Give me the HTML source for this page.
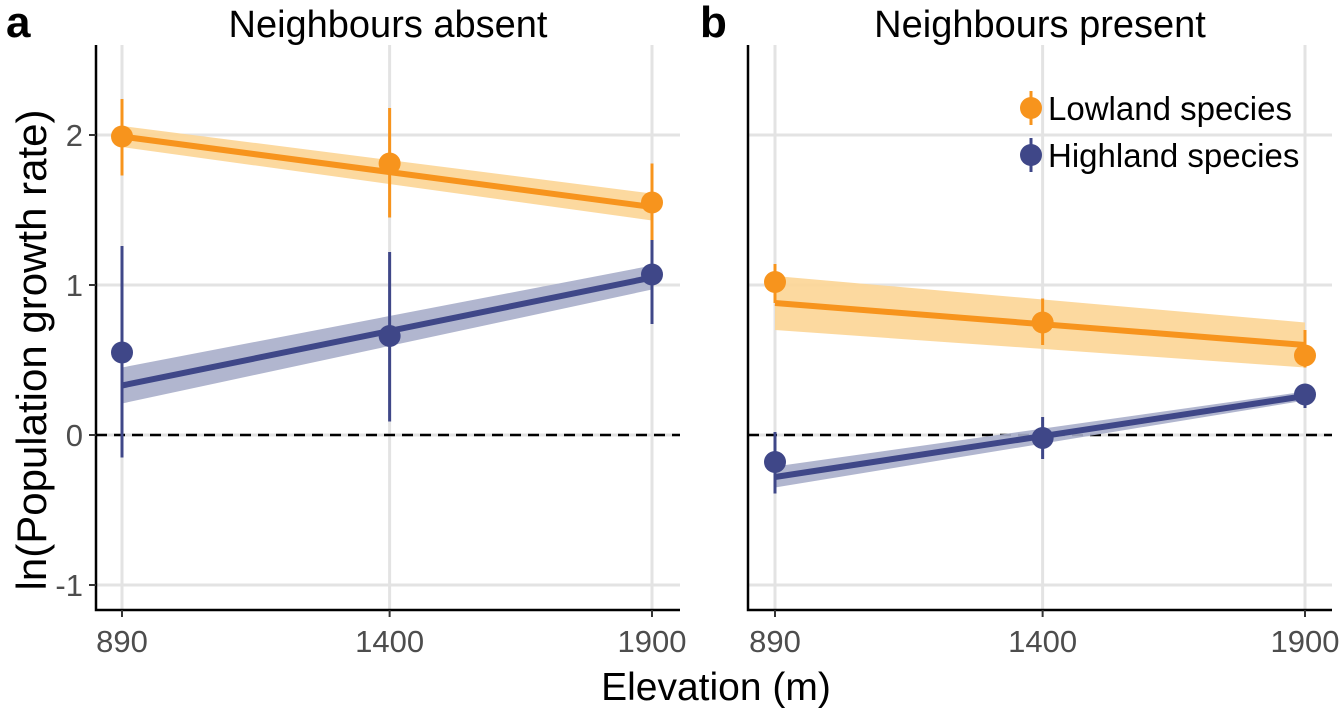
<!DOCTYPE html>
<html><head><meta charset="utf-8"><style>
html,body{margin:0;padding:0;background:#fff;}
svg{display:block;font-family:"Liberation Sans",Arial,sans-serif;}
</style></head><body>
<svg id="chart" width="1344" height="709" viewBox="0 0 1344 709"></svg>
<script>
const elevations = [890, 1400, 1900];
const tickY = [-1, 0, 1, 2];
const panelTitles = ["Neighbours absent", "Neighbours present"];
const panelLetters = ["a", "b"];
const seriesNames = ["Lowland species", "Highland species"];
// panel a
const aLowMean = [1.99, 1.81, 1.55];
const aLowLo = [1.73, 1.45, 1.29];
const aLowHi = [2.24, 2.18, 1.81];
const aLowFit = [1.99, 1.52];
const aLowBand = [0.07, 0.09];
const aHighMean = [0.55, 0.66, 1.07];
const aHighLo = [-0.15, 0.09, 0.74];
const aHighHi = [1.26, 1.22, 1.30];
const aHighFit = [0.33, 1.05];
const aHighBand = [0.12, 0.08];
// panel b
const bLowMean = [1.02, 0.75, 0.53];
const bLowLo = [0.88, 0.60, 0.45];
const bLowHi = [1.14, 0.91, 0.70];
const bLowFit = [0.88, 0.60];
const bLowBand = [0.18, 0.15];
const bHighMean = [-0.18, -0.02, 0.27];
const bHighLo = [-0.39, -0.16, 0.18];
const bHighHi = [0.02, 0.12, 0.32];
const bHighFit = [-0.28, 0.26];
const bHighBand = [0.07, 0.03];

const NS = "http://www.w3.org/2000/svg";
const svg = document.getElementById("chart");
const ORANGE = "#f7941d", BLUE = "#3f4788", ORIB = "#fcd595", BLRIB = "#a9aeca";
function mk(tag, attrs, parent) {
  const e = document.createElementNS(NS, tag);
  for (const k in attrs) e.setAttribute(k, attrs[k]);
  (parent || svg).appendChild(e);
  return e;
}
const yScale = v => 435 - v * 150;
const panels = [
  {x0: 96, x1: 680, xa: 122, xb: 652,
   low: [aLowMean, aLowLo, aLowHi, aLowFit, aLowBand], high: [aHighMean, aHighLo, aHighHi, aHighFit, aHighBand]},
  {x0: 748, x1: 1332, xa: 775, xb: 1305,
   low: [bLowMean, bLowLo, bLowHi, bLowFit, bLowBand], high: [bHighMean, bHighLo, bHighHi, bHighFit, bHighBand]}
];
panels.forEach((p, pi) => {
  const xScale = m => p.xa + (m - elevations[0]) / (elevations[2] - elevations[0]) * (p.xb - p.xa);
  const g = mk("g", {});
  
  
  tickY.forEach(t => {
    const l = mk("line", {x1: p.x0, x2: p.x1, y1: yScale(t), y2: yScale(t), stroke: "#e3e3e3", "stroke-width": 3}, g);
    
    
  });
  elevations.forEach(m => {
    const l = mk("line", {x1: xScale(m), x2: xScale(m), y1: 45, y2: 610, stroke: "#e3e3e3", "stroke-width": 3}, g);
    
    
  });
  const z = mk("line", {x1: p.x0, x2: p.x1, y1: yScale(0), y2: yScale(0), stroke: "#000", "stroke-width": 2.5, "stroke-dasharray": "11,7"}, g);
  
  
  [[p.low, ORANGE, ORIB, "lowland"], [p.high, BLUE, BLRIB, "highland"]].forEach(([s, col, rib, nm]) => {
    const [mean, lo, hi, fit, band] = s;
    const xA = xScale(elevations[0]), xB = xScale(elevations[2]);
    const r = mk("polygon", {points: `${xA},${yScale(fit[0]+band[0])} ${xB},${yScale(fit[1]+band[1])} ${xB},${yScale(fit[1]-band[1])} ${xA},${yScale(fit[0]-band[0])}`, fill: rib, opacity: 0.9}, g);
    
    
    const f = mk("line", {x1: xA, x2: xB, y1: yScale(fit[0]), y2: yScale(fit[1]), stroke: col, "stroke-width": 6}, g);
    
    
    elevations.forEach((m, i) => {
      const eb = mk("line", {x1: xScale(m), x2: xScale(m), y1: yScale(lo[i]), y2: yScale(hi[i]), stroke: col, "stroke-width": 3}, g);
      
      
      const c = mk("circle", {cx: xScale(m), cy: yScale(mean[i]), r: 11, fill: col}, g);
      
      
    });
  });
  const ax = mk("path", {d: `M${p.x0},45 V${610} H${p.x1}`, fill: "none", stroke: "#000", "stroke-width": 2.5}, g);
  
  
  elevations.forEach(m => {
    const tk = mk("line", {x1: xScale(m), x2: xScale(m), y1: 610, y2: 617, stroke: "#333", "stroke-width": 2}, g);
    
    
    const t = mk("text", {x: xScale(m), y: 652, "text-anchor": "middle", "font-size": 31, fill: "#4d4d4d"}, g);
    t.textContent = m;
    
    
  });
  if (pi === 0) {
    tickY.forEach(v => {
      const tk = mk("line", {x1: p.x0 - 7, x2: p.x0, y1: yScale(v), y2: yScale(v), stroke: "#333", "stroke-width": 2}, g);
      
      
      const t = mk("text", {x: p.x0 - 13, y: yScale(v) + 11, "text-anchor": "end", "font-size": 31, fill: "#4d4d4d"}, g);
      t.textContent = v;
      
      
    });
  }
  const ti = mk("text", {x: (p.x0 + p.x1) / 2, y: 37, "text-anchor": "middle", "font-size": 38, fill: "#000"}, g);
  ti.textContent = panelTitles[pi];
  
  
  const le = mk("text", {x: pi === 0 ? 6 : 700, y: 37, "font-size": 44, "font-weight": "bold", fill: "#000"}, g);
  le.textContent = panelLetters[pi];
  
  
});
// legend
[[ORANGE, 108], [BLUE, 155]].forEach(([col, y], i) => {
  const lg = mk("g", {});
  
  
  mk("line", {x1: 1031, x2: 1031, y1: y - 17, y2: y + 17, stroke: col, "stroke-width": 3}, lg);
  mk("circle", {cx: 1031, cy: y, r: 11, fill: col}, lg);
  const t = mk("text", {x: 1048, y: y + 12, "font-size": 33, fill: "#000"}, lg);
  t.textContent = seriesNames[i];
});
const xt = mk("text", {x: 716, y: 700, "text-anchor": "middle", "font-size": 39, fill: "#000"});
xt.textContent = "Elevation (m)";


const yt = mk("text", {x: 0, y: 0, "text-anchor": "middle", "font-size": 42, fill: "#000", transform: "translate(46,350) rotate(-90)"});
yt.textContent = "ln(Population growth rate)";


</script>
</body></html>
